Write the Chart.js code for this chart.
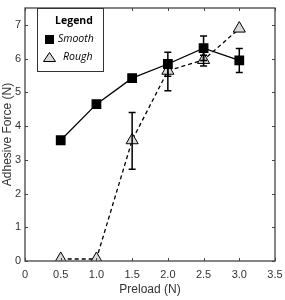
<!DOCTYPE html>
<html>
<head>
<meta charset="utf-8">
<script src="https://cdn.jsdelivr.net/npm/chart.js@4"></script>
<style>
  html, body { margin: 0; padding: 0; background: #fff; }
  #wrap { width: 285px; height: 300px; position: relative; }
</style>
</head>
<body>
<div id="wrap"><canvas id="c" width="285" height="300"></canvas></div>
<script>
// preload (N)
const preload = [0.5, 1, 1.5, 2, 2.5, 3];
// smooth surface: mean and error bar ends
const smoothMean = [3.58, 4.65, 5.42, 5.84, 6.31, 5.95];
const smoothLow  = [null, null, null, 5.48, 5.94, 5.59];
const smoothHigh = [null, null, null, 6.19, 6.67, 6.3];
// rough surface
const roughMean = [0.06, 0.06, 3.58, 5.64, 5.96, 6.89];
const roughLow  = [null, null, 2.72, 5.05, 5.78, null];
const roughHigh = [null, null, 4.4, 5.9, 6.1, null];

const xTicks = [0, 0.5, 1, 1.5, 2, 2.5, 3, 3.5];
const yTicks = [0, 1, 2, 3, 4, 5, 6, 7];

const FONT = 'Liberation Sans, Arial, sans-serif';
const LFONT = '"Open Sans", "Noto Sans", sans-serif';

// error bars + frame with inward ticks + legend box
const extras = {
  id: 'extras',
  afterDatasetsDraw(chart) {
    const ctx = chart.ctx, xs = chart.scales.x, ys = chart.scales.y, a = chart.chartArea;
    ctx.save();
    ctx.strokeStyle = '#000';
    ctx.lineWidth = 1.5;
    const bars = [[smoothLow, smoothHigh], [roughLow, roughHigh]];
    bars.forEach(([lo, hi]) => {
      preload.forEach((p, i) => {
        if (lo[i] == null) return;
        const x = xs.getPixelForValue(p);
        const y1 = ys.getPixelForValue(lo[i]), y2 = ys.getPixelForValue(hi[i]);
        ctx.beginPath();
        ctx.moveTo(x, y1); ctx.lineTo(x, y2);
        ctx.moveTo(x - 3.5, y1); ctx.lineTo(x + 3.5, y1);
        ctx.moveTo(x - 3.5, y2); ctx.lineTo(x + 3.5, y2);
        ctx.stroke();
      });
    });
    // frame
    ctx.lineWidth = 1.3;
    ctx.strokeStyle = '#444';
    ctx.strokeRect(a.left, a.top, a.right - a.left, a.bottom - a.top);
    ctx.lineWidth = 1;
    ctx.beginPath();
    xTicks.forEach(v => {
      const x = Math.round(xs.getPixelForValue(v)) + 0.5;
      ctx.moveTo(x, a.bottom); ctx.lineTo(x, a.bottom - 3);
      ctx.moveTo(x, a.top); ctx.lineTo(x, a.top + 3);
    });
    yTicks.forEach(v => {
      const y = Math.round(ys.getPixelForValue(v)) + 0.5;
      ctx.moveTo(a.left, y); ctx.lineTo(a.left + 3, y);
      ctx.moveTo(a.right, y); ctx.lineTo(a.right - 3, y);
    });
    ctx.stroke();
    // legend box
    ctx.fillStyle = '#fff';
    ctx.fillRect(37, 8, 66, 63);
    ctx.strokeStyle = '#333';
    ctx.lineWidth = 1;
    ctx.strokeRect(37.5, 8.5, 66, 63);
    ctx.fillStyle = '#000';
    ctx.textBaseline = 'middle';
    ctx.textAlign = 'center';
    ctx.font = 'bold 10.5px ' + LFONT;
    ctx.fillText('Legend', 74, 21);
    ctx.textAlign = 'left';
    ctx.fillRect(45, 35, 9, 9);
    ctx.font = 'italic 10.5px ' + LFONT;
    ctx.fillText('Smooth', 58, 39.5);
    ctx.beginPath();
    ctx.moveTo(49.5, 52.5); ctx.lineTo(55.5, 61.5); ctx.lineTo(43.5, 61.5); ctx.closePath();
    ctx.fillStyle = '#d9d9d9'; ctx.fill();
    ctx.strokeStyle = '#000'; ctx.stroke();
    ctx.fillStyle = '#000';
    ctx.fillText('Rough', 63, 57.5);
    ctx.restore();
  }
};

new Chart(document.getElementById('c'), {
  type: 'line',
  data: {
    datasets: [
      { label: 'Smooth', data: preload.map((p, i) => ({ x: p, y: smoothMean[i] })),
        borderColor: '#000', borderWidth: 1.3, pointStyle: 'rect', pointRadius: 6,
        pointBackgroundColor: '#000', pointBorderColor: '#000', order: 1 },
      { label: 'Rough', data: preload.map((p, i) => ({ x: p, y: roughMean[i] })),
        borderColor: '#000', borderWidth: 1.3, borderDash: [4, 3], pointStyle: 'triangle', pointRadius: 7,
        pointBackgroundColor: '#d9d9d9', pointBorderColor: '#000', pointBorderWidth: 1, order: 2 }
    ]
  },
  options: {
    responsive: false, animation: false,
    layout: { padding: { top: 2, right: 10, left: 0, bottom: 0 } },
    plugins: { legend: { display: false }, tooltip: { enabled: false } },
    scales: {
      x: { type: 'linear', min: 0, max: 3.5,
        afterBuildTicks: s => { s.ticks = xTicks.map(v => ({ value: v })); },
        afterFit: s => { s.height = 39; s.paddingLeft = 0; s.paddingRight = 0; },
        grid: { display: false, drawTicks: false }, border: { display: false },
        ticks: { color: '#333', font: { family: FONT, size: 11 }, padding: 7, maxRotation: 0 },
        title: { display: true, text: 'Preload (N)', color: '#333', font: { family: FONT, size: 12 }, padding: { top: 2, bottom: 3 } } },
      y: { type: 'linear', min: 0, max: 7.5,
        afterBuildTicks: s => { s.ticks = yTicks.map(v => ({ value: v })); },
        afterFit: s => { s.width = 25; s.paddingTop = 0; s.paddingBottom = 0; },
        grid: { display: false, drawTicks: false }, border: { display: false },
        ticks: { color: '#333', font: { family: FONT, size: 11 }, padding: 4 },
        title: { display: true, text: 'Adhesive Force (N)', color: '#333', font: { family: FONT, size: 12 }, padding: { top: 0, bottom: 0, left: 1 } } }
    }
  },
  plugins: [extras]
});
</script>
</body>
</html>
